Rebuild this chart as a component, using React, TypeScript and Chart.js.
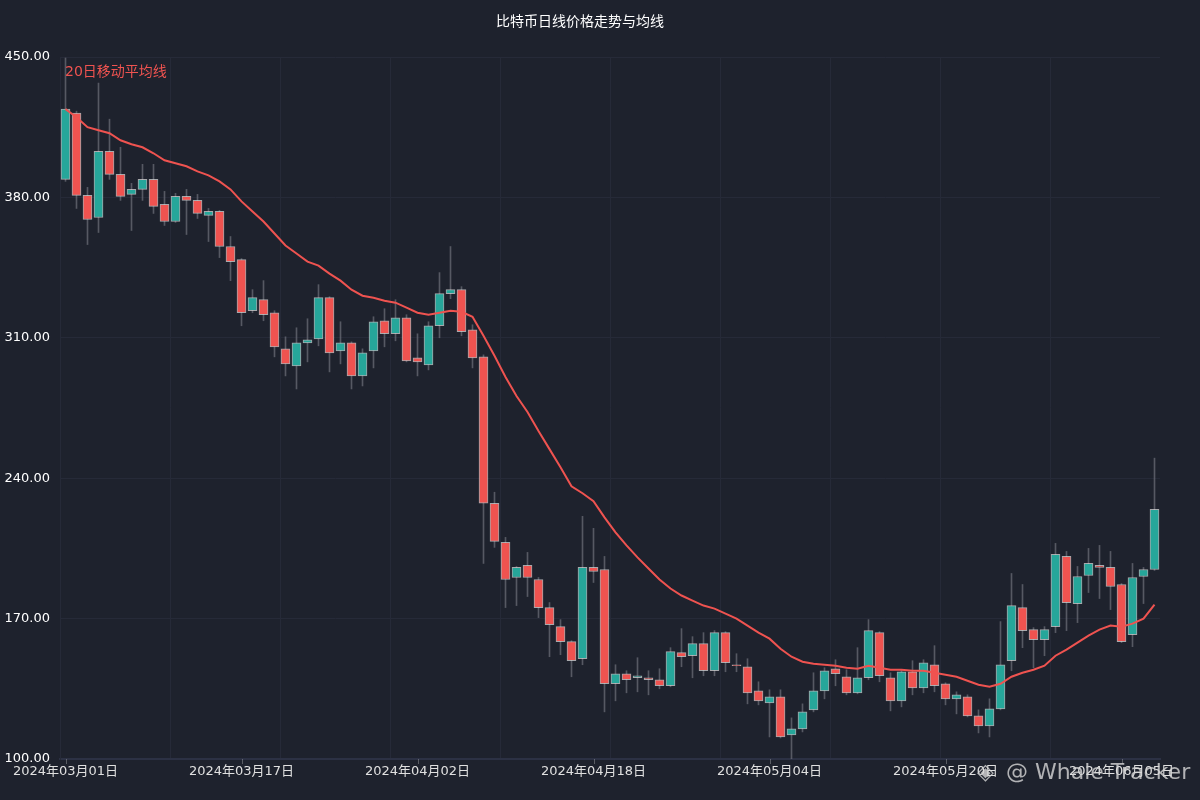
import { useEffect, useRef } from "react";
import { Chart, registerables } from "chart.js";

Chart.register(...registerables);

const dates = [
  "2024-03-01","2024-03-02","2024-03-03","2024-03-04","2024-03-05","2024-03-06","2024-03-07","2024-03-08","2024-03-09","2024-03-10",
  "2024-03-11","2024-03-12","2024-03-13","2024-03-14","2024-03-15","2024-03-16","2024-03-17","2024-03-18","2024-03-19","2024-03-20",
  "2024-03-21","2024-03-22","2024-03-23","2024-03-24","2024-03-25","2024-03-26","2024-03-27","2024-03-28","2024-03-29","2024-03-30",
  "2024-03-31","2024-04-01","2024-04-02","2024-04-03","2024-04-04","2024-04-05","2024-04-06","2024-04-07","2024-04-08","2024-04-09",
  "2024-04-10","2024-04-11","2024-04-12","2024-04-13","2024-04-14","2024-04-15","2024-04-16","2024-04-17","2024-04-18","2024-04-19",
  "2024-04-20","2024-04-21","2024-04-22","2024-04-23","2024-04-24","2024-04-25","2024-04-26","2024-04-27","2024-04-28","2024-04-29",
  "2024-04-30","2024-05-01","2024-05-02","2024-05-03","2024-05-04","2024-05-05","2024-05-06","2024-05-07","2024-05-08","2024-05-09",
  "2024-05-10","2024-05-11","2024-05-12","2024-05-13","2024-05-14","2024-05-15","2024-05-16","2024-05-17","2024-05-18","2024-05-19",
  "2024-05-20","2024-05-21","2024-05-22","2024-05-23","2024-05-24","2024-05-25","2024-05-26","2024-05-27","2024-05-28","2024-05-29",
  "2024-05-30","2024-05-31","2024-06-01","2024-06-02","2024-06-03","2024-06-04","2024-06-05","2024-06-06","2024-06-07","2024-06-08",
];

const opens = [
  389, 422, 381, 370, 403, 391.5, 381.5, 384, 389, 376.5,
  368, 380.5, 378.5, 371, 373, 355.5, 349, 323.5, 329, 322.5,
  304.5, 296, 307.5, 309.5, 330, 303.5, 307.5, 291, 303.5, 318.5,
  312, 320, 300, 296.5, 316, 332, 334, 314, 300.5, 227.5,
  208, 190.5, 196.5, 189.5, 175.5, 166, 158.5, 150, 195.5, 194.5,
  137.5, 142.5, 140.5, 140.5, 139.5, 136.5, 153, 151.5, 157.5, 144,
  163, 147, 146, 134, 128, 131, 112, 115, 124.5, 134,
  145, 141, 133, 140.5, 163, 140.5, 129, 143.5, 135.5, 147,
  137.5, 130, 131, 121.5, 116.5, 125, 149, 175.5, 164.5, 159.5,
  166, 201, 177.5, 191.5, 196.5, 195.5, 187, 162, 191, 194.5,
];

const highs = [
  449.5, 423, 385, 437, 419, 405, 387, 396.5, 396.5, 383,
  382, 384, 381.5, 374.5, 373.5, 360.5, 349.5, 334, 338.5, 323.5,
  310.5, 315, 319.5, 336.5, 330.5, 318, 308, 304.5, 320.5, 324.5,
  329, 321.5, 312, 318, 342.5, 355.5, 335.5, 316.5, 301.5, 233,
  210.5, 196, 203, 190.5, 178, 169.5, 159, 221, 215, 201,
  147, 144, 150.5, 144, 145, 155.5, 165, 161, 163, 164,
  163.5, 152.5, 150, 138.5, 134.5, 134.5, 120.5, 127.5, 143, 145.5,
  149.5, 144.5, 155.5, 169.5, 163.5, 143, 144.5, 149, 149.5, 156.5,
  138, 133.5, 132, 124.5, 130, 168.5, 192.5, 187, 165.5, 166,
  207.5, 203.5, 196, 205, 206.5, 203.5, 187.5, 197.5, 195.5, 250,
];

const lows = [
  388, 374.5, 356.5, 362.5, 389, 378.5, 363.5, 378.5, 372, 366,
  367.5, 361.5, 369.5, 358, 350, 338.5, 316, 322.5, 318.5, 300.5,
  291, 284.5, 298, 306, 293, 297, 284.5, 286, 295, 305.5,
  308.5, 298, 291, 294, 310, 329.5, 311, 295, 197.5, 205.5,
  175.5, 176.5, 181, 170.5, 151, 152, 141, 147, 188, 123.5,
  129, 133, 133.5, 132, 135, 136, 146, 140.5, 141.5, 141.5,
  143.5, 143.5, 127.5, 127, 111, 110.5, 100, 113.5, 123.5, 130,
  136.5, 132, 132.5, 139.5, 138.5, 124, 126, 132, 133, 133.5,
  127, 122.5, 121, 113, 111, 124.5, 144, 155.5, 145.5, 151.5,
  163, 164, 168, 183, 180, 174.5, 158, 156, 177.5, 194,
];

const closes = [
  424, 381, 369, 403, 391.5, 380.5, 384, 389, 375.5, 368,
  380.5, 378.5, 372, 373, 355.5, 348, 322.5, 330, 321.5, 305.5,
  297, 307.5, 309, 330, 302.5, 307.5, 291, 302.5, 318, 312,
  320, 298.5, 298, 316, 332, 334, 313, 300, 227.5, 208.5,
  189.5, 195.5, 190.5, 175.5, 167, 158.5, 149, 195.5, 193.5, 137.5,
  142.5, 139.5, 141.5, 139.5, 136.5, 153.5, 151, 157.5, 144, 163,
  148, 146.5, 133, 129, 131, 111, 115, 123.5, 134, 144,
  142.5, 133, 140.5, 164, 141.5, 129, 143.5, 135.5, 148, 136.5,
  130, 132, 121.5, 116.5, 125, 147, 176.5, 164, 159.5, 164.5,
  202, 178, 191, 197.5, 195.5, 186, 158.5, 190.5, 194.5, 224.5,
];

const ma20 = [
  424, 420, 415, 413.5, 412, 408.5, 406.5, 405, 402, 398.5,
  397, 395.5, 393, 391, 388, 384, 378, 373, 368, 362,
  356, 352, 348, 346, 342, 338.5, 334, 331, 330, 328.5,
  327.5, 325, 322.5, 321.5, 322.5, 323.5, 323, 320.5, 311, 301,
  290.5, 281, 273, 263.5, 254.5, 245.5, 236, 232.5, 228.5, 220.5,
  213, 206.5, 200.5, 195, 189.5, 185, 181.5, 179, 176.5, 175,
  172.5, 170, 166.5, 163, 160, 155, 151, 148.5, 147.5, 147,
  146.5, 145.5, 145, 146.5, 145.5, 144.5, 144.5, 144, 144, 143,
  142, 141, 139, 137, 136, 137.5, 141, 143, 144.5, 146.5,
  151.5, 154.5, 158, 161.5, 164.5, 166.5, 166, 167.5, 170, 177,
];

const yMin = 100;
const yMax = 450;
const yStep = 70;
const labelEvery = 16;
const gridEvery = 10;

const chartTitle = "比特币日线价格走势与均线";
const maLabel = "20日移动平均线";
const watermark = "@ Whale Tracker";

const UP = "#26a69a";
const DOWN = "#ef5350";
const BG = "#1e222d";
const GRID = "#262a38";

function fmtDate(s: string) {
  const [y, m, d] = s.split("-");
  return `${y}年${m}月${d}日`;
}

export default function App() {
  const ref = useRef<HTMLCanvasElement | null>(null);

  useEffect(() => {
    document.body.style.margin = "0";
    document.body.style.background = BG;
    const canvas = ref.current;
    if (!canvas) return;

    const overlay = {
      id: "overlay",
      beforeDraw(chart: any) {
        const c = chart.ctx;
        c.save();
        c.fillStyle = BG;
        c.fillRect(0, 0, chart.width, chart.height);
        c.restore();
      },
      afterDraw(chart: any) {
        const c = chart.ctx;
        const area = chart.chartArea;
        const xs = chart.scales.x;
        c.save();
        c.strokeStyle = "rgba(200,200,200,0.35)";
        c.lineWidth = 1;
        for (let i = 0; i < dates.length; i += labelEvery) {
          const px = Math.round(xs.getPixelForValue(i)) + 0.5;
          c.beginPath();
          c.moveTo(px, area.bottom);
          c.lineTo(px, area.bottom + 5);
          c.stroke();
        }
        c.font = '14px "DejaVu Sans", "Noto Sans CJK SC", sans-serif';
        c.fillStyle = DOWN;
        c.textBaseline = "middle";
        c.textAlign = "left";
        c.fillText(maLabel, area.left + 5, area.top + 15);
        c.font = '22px "DejaVu Sans", sans-serif';
        c.fillStyle = "rgba(215,215,215,0.8)";
        c.fillText("◈", 977, 773);
        c.fillText(watermark, 1006, 773);
        c.restore();
      },
    };

    const chart = new Chart(canvas, {
      type: "bar",
      data: {
        labels: dates,
        datasets: [
          {
            type: "line",
            label: maLabel,
            data: ma20,
            borderColor: DOWN,
            borderWidth: 2,
            pointRadius: 0,
            tension: 0,
            order: 0,
          } as any,
          {
            type: "bar",
            label: "K",
            data: opens.map((o, i) => [o, closes[i]]),
            backgroundColor: opens.map((o, i) => (closes[i] >= o ? UP : DOWN)),
            borderColor: "rgba(215,215,215,0.75)",
            borderWidth: 1,
            borderSkipped: false,
            barThickness: 9,
            grouped: false,
            order: 1,
          } as any,
          {
            type: "bar",
            label: "wick",
            data: lows.map((l, i) => [l, highs[i]]),
            backgroundColor: "rgba(105,108,118,0.75)",
            borderWidth: 0,
            barThickness: 1,
            grouped: false,
            order: 2,
          } as any,
        ],
      },
      options: {
        responsive: false,
        animation: false,
        devicePixelRatio: 1,
        layout: { padding: { left: 0, right: 40, top: 0, bottom: 0 }, autoPadding: false } as any,
        plugins: {
          legend: { display: false },
          tooltip: { enabled: false },
          title: {
            display: true,
            text: chartTitle,
            color: "#ffffff",
            font: { size: 14, weight: "normal", family: '"DejaVu Sans", "Noto Sans CJK SC", sans-serif', lineHeight: 1.2 },
            padding: { top: 14, bottom: 26.2 },
          },
        },
        scales: {
          x: {
            type: "category",
            offset: true,
            afterFit: (s: any) => {
              s.height = 41;
            },
            grid: {
              display: true,
              offset: true,
              color: (ctx: any) => (ctx.index % gridEvery === 0 ? GRID : "rgba(0,0,0,0)"),
              drawTicks: true,
              tickLength: 5,
              tickColor: "rgba(0,0,0,0)",
            },
            border: { display: true, color: "#2c3144", width: 2 },
            ticks: {
              autoSkip: false,
              maxRotation: 0,
              minRotation: 0,
              padding: 0,
              color: "#e0e0e0",
              font: { size: 13, family: '"DejaVu Sans", "Noto Sans CJK SC", sans-serif' },
              callback: (_v: any, i: number) => (i % labelEvery === 0 ? fmtDate(dates[i]) : ""),
            },
          },
          y: {
            type: "linear",
            min: yMin,
            max: yMax,
            afterFit: (s: any) => {
              s.width = 60;
            },
            grid: { color: GRID, drawTicks: false, tickLength: 0 },
            border: { display: true, color: "#262a38" },
            ticks: {
              stepSize: yStep,
              padding: 10,
              color: "#ffffff",
              font: { size: 13, family: '"DejaVu Sans", sans-serif' },
              callback: (v: any) => Number(v).toFixed(2),
            },
          },
        },
      } as any,
      plugins: [overlay],
    });

    return () => {
      chart.destroy();
    };
  }, []);

  return (
    <div style={{ width: 1200, height: 800, background: BG }}>
      <canvas ref={ref} width={1200} height={800} style={{ display: "block" }} />
    </div>
  );
}
